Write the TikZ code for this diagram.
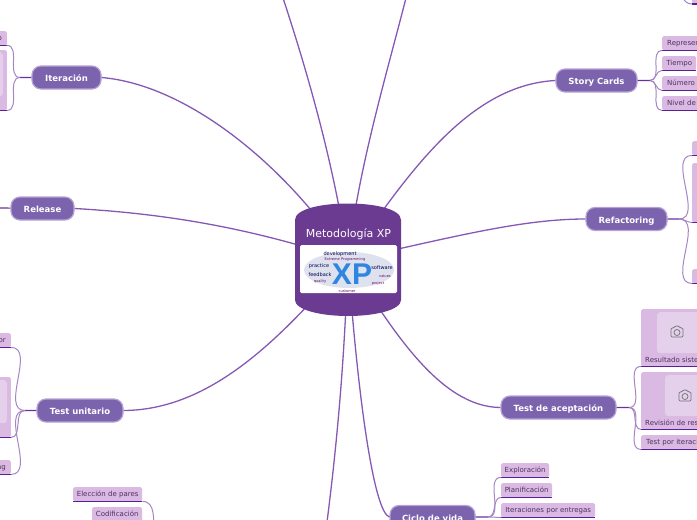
\documentclass[tikz,border=0pt]{standalone}
\usepackage{fontspec}
\setmainfont{DejaVu Sans}
\newfontfamily\xpfont{Liberation Sans}
\definecolor{centrofill}{HTML}{6B3A91}
\definecolor{mainfill}{HTML}{7B63AD}
\definecolor{mainline}{HTML}{B6A2D4}
\definecolor{branchcol}{HTML}{8558B4}
\definecolor{twigcol}{HTML}{A684C6}
\definecolor{forkcol}{HTML}{6A2FA0}
\definecolor{leaffill}{HTML}{DAB9E3}
\definecolor{leafline}{HTML}{5A1F96}
\definecolor{leaftext}{HTML}{4E3060}
\definecolor{photofill}{HTML}{E5D0EC}
\definecolor{xpblue}{HTML}{2F86E0}
\definecolor{nubecol}{HTML}{DDE2EE}

\begin{document}
\begin{tikzpicture}[x=1pt,y=-1pt]
  \tikzset{
    topic/.style={draw=mainline,line width=1.2pt,fill=mainfill,rounded corners=9pt,text=white,
      font=\fontsize{8.5}{10}\selectfont\bfseries,inner sep=0pt,text height=8pt,text depth=0pt,minimum height=23pt},
    leafbase/.style={fill=leaffill,rounded corners=1.5pt,text=leaftext,font=\fontsize{7}{9}\selectfont,
      inner ysep=0pt,text height=6pt,text depth=1.5pt,minimum height=14pt,
      append after command={(\tikzlastnode.south west) edge[leafedge] (\tikzlastnode.south east)}},
    leaf/.style={leafbase,inner xsep=5pt,text width=#1},
    leaffit/.style={leafbase,inner xsep=0pt,minimum width=#1},
    leafedge/.style={draw=leafline,line width=1.1pt,rounded corners=0pt},
    photoleaf/.style={fill=leaffill,rounded corners=1.5pt,anchor=north west,minimum width=#1,inner sep=0pt,
      append after command={(\tikzlastnode.south west) edge[leafedge] (\tikzlastnode.south east)}},
    photo/.style={fill=photofill,rounded corners=3pt,anchor=north west,inner sep=0pt},
    caption/.style={text=leaftext,font=\fontsize{7}{9}\selectfont,anchor=base west,inner sep=0pt},
    branch/.style={draw=branchcol,line width=1.3pt},
    twig/.style={draw=twigcol,line width=1pt},
    fork/.style={draw=forkcol,line width=1.2pt},
    word/.style={inner sep=0pt,font=\fontsize{#1}{#1}\selectfont},
    camara/.pic={
      \draw[gray!90!black,line width=.7pt,rounded corners=1.2pt] (-6,-4) -- (-3,-4) -- (-2,-6) -- (2,-6) -- (3,-4)
        -- (6,-4) -- (6,5) -- (-6,5) -- cycle;
      \draw[gray!90!black,line width=.7pt] (0,.5) circle (3);
    }
  }
  \useasboundingbox (0,0) rectangle (697,520);
  \clip (0,0) rectangle (697,520);

  \node[minimum width=106pt,minimum height=112pt,inner sep=0pt] (centro) at (348,260) {};

  % right side
  \node[topic,minimum width=81pt] (story) at (596.5,80.5) {Story Cards};
  \node[leaf=60pt,anchor=north west] (represen) at (662,36) {Represen};
  \node[leaffit=34pt,anchor=north west] (tiempo) at (662,56) {Tiempo};
  \node[leaf=60pt,anchor=north west] (numero) at (662,76) {Número};
  \node[leaf=60pt,anchor=north west] (nivel) at (662,96) {Nivel de};
  \node[leaf=60pt,anchor=south west] (arriba) at (692,4) {};

  \node[topic,minimum width=81pt] (refactoring) at (626.5,219) {Refactoring};
  \node[leaf=60pt,anchor=north west] (ref1) at (692,141) {};
  \node[photoleaf=60pt,minimum height=59pt] (ref2) at (692,163) {};
  \node[leaf=60pt,anchor=north west] (ref3) at (692,269) {};

  \node[topic,minimum width=115pt] (aceptacion) at (558.5,407.5) {Test de aceptación};
  \node[photoleaf=70pt,minimum height=57pt] (resultado) at (641,309) {};
  \node[photo,minimum width=60pt,minimum height=41pt] (foto1) at (657,312) {};
  \pic at (677,332) {camara};
  \node[caption] (textores) at (645,362) {Resultado siste};
  \node[photoleaf=70pt,minimum height=57pt] (revision) at (641,372) {};
  \node[photo,minimum width=60pt,minimum height=41pt] (foto2) at (665,375) {};
  \pic at (685,396) {camara};
  \node[caption] (textorev) at (645,425) {Revisión de res};
  \node[leaf=70pt,anchor=north west] (iterac) at (641,435) {Test por iteraci};

  \node[topic,minimum width=85pt] (ciclo) at (432.5,517) {Ciclo de vida};
  \node[leaffit=48pt,anchor=north west] (explora) at (501,463) {Exploración};
  \node[leaffit=51pt,anchor=north west] (planifica) at (501,483) {Planificación};
  \node[leaffit=94pt,anchor=north west] (entregas) at (501,503) {Iteraciones por entregas};

  % left side
  \node[topic,minimum width=69pt] (iteracion) at (66.5,77.5) {Iteración};
  \node[leaf=30pt,anchor=north east,align=right] (ite1) at (7,31) {o};
  \node[photoleaf=40pt,minimum height=60pt,anchor=north east] (ite2) at (7,50) {};
  \node[photo,minimum width=40pt,minimum height=44pt,anchor=north east] (foto3) at (3,52) {};

  \node[topic,minimum width=63pt] (release) at (42.5,208.5) {Release};
  \coordinate (releasefin) at (0,208);

  \node[topic,minimum width=86pt] (unitario) at (80,410.5) {Test unitario};
  \node[leaf=30pt,anchor=north east,align=right] (uni1) at (11,333) {or};
  \node[photoleaf=40pt,minimum height=60pt,anchor=north east] (uni2) at (11,377) {};
  \node[photo,minimum width=40pt,minimum height=43pt,anchor=north east] (foto4) at (7,380) {};
  \node[leaf=30pt,anchor=north east,align=right] (uni3) at (11,460) {ng};

  \node[leaffit=69pt,anchor=north west] (pares) at (73,487) {Elección de pares};
  \node[leaffit=50pt,anchor=north west] (codifica) at (92,507) {Codificación};

  % forks
  \coordinate (storyfork) at (650,80.5);
  \coordinate (reffork) at (679,219);
  \coordinate (acefork) at (629,407.5);
  \coordinate (ciclofork) at (488,517);
  \coordinate (itefork) at (20,77.5);
  \coordinate (unifork) at (25,410.5);
  \coordinate (practicafork) at (155,535);
  \coordinate (arribafork) at (680,-20);
  \path[fork] (story) -- (storyfork) (refactoring) -- (reffork) (aceptacion) -- (acefork)
    (ciclo) -- (ciclofork) (iteracion) -- (itefork) (unitario) -- (unifork) (release) -- (releasefin);
  \foreach \hoja in {represen,tiempo,numero,nivel}
    \path[twig] (storyfork) to[out=0,in=180] (\hoja.south west);
  \foreach \hoja in {ref1,ref2,ref3}
    \path[twig] (reffork) to[out=0,in=180] (\hoja.south west);
  \foreach \hoja in {resultado,revision,iterac}
    \path[twig] (acefork) to[out=0,in=180] (\hoja.south west);
  \foreach \hoja in {explora,planifica,entregas}
    \path[twig] (ciclofork) to[out=0,in=180] (\hoja.south west);
  \foreach \hoja in {ite1,ite2}
    \path[twig] (itefork) to[out=180,in=0] (\hoja.south east);
  \foreach \hoja in {uni1,uni2,uni3}
    \path[twig] (unifork) to[out=180,in=0] (\hoja.south east);
  \path[twig] (practicafork) to[out=100,in=0] (pares.south east);
  \path[twig] (arribafork) to[out=-90,in=180] (arriba.south west);

  % branches to the centre
  \coordinate (arribaizq) at (283,-2);
  \coordinate (arribader) at (406,-2);
  \coordinate (abajoizq) at (327,522);
  \path[branch] (iteracion.east) .. controls (190,85) and (290,170) .. (centro.center);
  \path[branch] (release.east) .. controls (190,215) and (270,235) .. (centro.center);
  \path[branch] (unitario.east) .. controls (210,410) and (280,340) .. (centro.center);
  \path[branch] (story.west) .. controls (470,85) and (410,170) .. (centro.center);
  \path[branch] (refactoring.west) .. controls (520,219) and (450,238) .. (centro.center);
  \path[branch] (aceptacion.west) .. controls (440,407) and (392,330) .. (centro.center);
  \path[branch] (ciclo.west) .. controls (374,512) and (358,400) .. (centro.center);
  \path[branch] (abajoizq) .. controls (340,420) and (345,340) .. (centro.center);
  \path[branch] (arribaizq) .. controls (310,80) and (335,170) .. (centro.center);
  \path[branch] (arribader) .. controls (385,80) and (358,170) .. (centro.center);

  % central topic
  \fill[centrofill] (295,220) .. controls (295,209) and (321,203.5) .. (348,203.5)
    .. controls (375,203.5) and (401,209) .. (401,220) -- (401,300)
    .. controls (401,310) and (375,316) .. (348,316)
    .. controls (321,316) and (295,310) .. (295,300) -- cycle;
  \node[text=white,inner sep=0pt,font=\fontsize{11}{12}\selectfont] (titulo) at (348.5,234) {Metodología XP};
  \node[fill=white,rounded corners=1.5pt,minimum width=97pt,minimum height=48pt,inner sep=0pt] (nube) at (348.5,269) {};
  \fill[nubecol] (349,270) ellipse [x radius=45,y radius=18];
  \foreach \x/\y/\palabra [count=\i] in {340/254/development,319/266/practice,382/268/software,320/275/feedback}
    \node[word=5,text=black!70!blue] (grande\i) at (\x,\y) {\palabra};
  \foreach \x/\y/\palabra [count=\i] in {345/259.5/Extreme Programming,320/282/quality,378/284/project,347/291/customer,385/276/values}
    \node[word=3.6,text=violet!80!black] (chica\i) at (\x,\y) {\palabra};
  \node[text=xpblue,inner sep=0pt,font=\fontsize{30}{30}\selectfont\xpfont\bfseries] (xp) at (352,274) {XP};
\end{tikzpicture}
\end{document}
